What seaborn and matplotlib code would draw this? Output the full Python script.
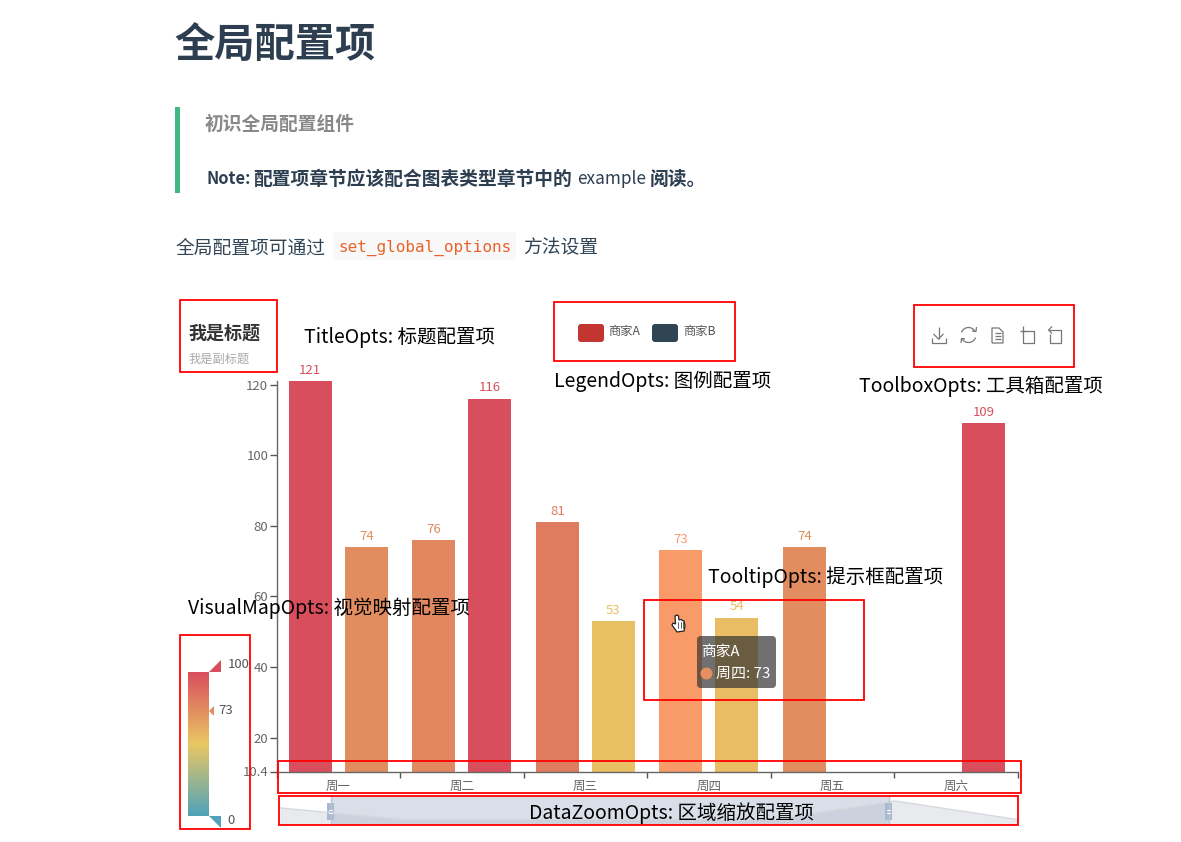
#!/usr/bin/env python3
"""Annotated echarts bar chart on a docs page, redrawn with seaborn."""

import matplotlib.pyplot as plt
import numpy as np
import pandas as pd
import seaborn as sns
from matplotlib.colors import LinearSegmentedColormap, Normalize
from matplotlib.patches import Arc, FancyBboxPatch, Polygon, Rectangle

days = ["周一", "周二", "周三", "周四", "周五", "周六"]
merchant_a = [121, 76, 81, 73, 74, np.nan]
merchant_b = [74, 116, 53, 54, np.nan, 109]
y_ticks = [10.4, 20, 40, 60, 80, 100, 120]
y_tick_labels = ["10.4", "20", "40", "60", "80", "100", "120"]
visual_colors = ["#50a3ba", "#eac763", "#d94e5d"]
shadow_values = [61, 20, 20, 20, 20, 86, 19]

W, H = 1181, 842
INK = "#2c3e50"
CJK = ["Noto Sans CJK SC", "DejaVu Sans"]

sns.set_theme(style="white")
plt.rcParams["font.family"] = CJK
plt.rcParams["axes.unicode_minus"] = False


def px_axes(fig, left, top, right, bottom, **kw):
    """Axes placed by its pixel box on the figure."""
    return fig.add_axes(
        [left / W, 1 - bottom / H, (right - left) / W, (bottom - top) / H], **kw
    )


def draw_chart(fig, cmap, norm):
    ax = px_axes(fig, 276.5, 381, 1017.5, 771.5)
    df = pd.DataFrame(
        {
            "day": days * 2,
            "value": merchant_a + merchant_b,
            "merchant": ["商家A"] * 6 + ["商家B"] * 6,
        }
    )
    sns.barplot(
        data=df, x="day", y="value", hue="merchant", order=days,
        width=0.906, gap=0.232, saturation=1, legend=False, ax=ax,
    )
    ax.set_xlim(-0.5, 5.5)
    ax.set_ylim(10.4, 121)

    for i, container in enumerate(ax.containers):
        colors = []
        for bar in container:
            c = cmap(norm(bar.get_height()))
            # 周四 of series A is the hovered bar
            if i == 0 and bar.get_height() == 73:
                c = "#f99b68"
            bar.set_facecolor(c)
            bar.set_edgecolor("none")
            colors.append(c)
        labels = ax.bar_label(container, padding=3, fontsize=9.5, clip_on=False)
        for text, c in zip(labels, colors):
            text.set_color(c)

    ax.set_xlabel("")
    ax.set_ylabel("")
    ax.set_yticks(y_ticks, y_tick_labels)
    ax.set_xticks(range(6), days)
    ax.set_xticks(np.arange(-0.5, 6), minor=True)
    ax.tick_params(axis="x", which="major", bottom=False, length=0, pad=6, labelsize=9, labelcolor="#666666")
    ax.tick_params(axis="x", which="minor", bottom=True, length=4, width=1, color="#555555")
    ax.tick_params(axis="y", left=True, length=5, width=1, color="#555555", pad=1, labelsize=9.5, labelcolor="#666666")
    sns.despine(ax=ax)
    for side in ("left", "bottom"):
        ax.spines[side].set_color("#666666")
        ax.spines[side].set_linewidth(1)
    ax.patch.set_alpha(0)


def draw_zoom_slider(fig):
    ax = px_axes(fig, 280, 797, 1018, 825)
    pos = np.arange(len(shadow_values))
    ax.fill_between(pos, shadow_values, 0, color="#e9eaed", lw=0)
    sns.lineplot(x=pos, y=shadow_values, color="#d5d8de", lw=1, ax=ax)
    ax.set_xlim(0, 6)
    ax.set_ylim(0, 100)
    ax.axis("off")
    ax.axvspan(0.414, 4.95, color="#a5b3c9", alpha=0.42, lw=0)
    for x in (0.414, 4.95):
        ax.axvline(x, color="#b8c5da", lw=1)
        ax.add_patch(Rectangle((x - 0.028, 18), 0.056, 60, color="#a9b9d0", lw=0))
        ax.plot([x - 0.012, x + 0.012], [43, 43], color="white", lw=0.8)
        ax.plot([x - 0.012, x + 0.012], [53, 53], color="white", lw=0.8)


def draw_visual_map(fig, cmap):
    ax = px_axes(fig, 188, 672, 209, 816)
    gradient = np.linspace(1, 0, 200).reshape(-1, 1)
    ax.imshow(gradient, aspect="auto", cmap=cmap, vmin=0, vmax=1)
    ax.axis("off")


def draw_toolbox(ov):
    grey = "#777777"
    lw = 0.9
    kw = dict(color=grey, lw=lw, solid_capstyle="butt")
    # download
    ov.plot([938.5, 938.5], [327, 339], **kw)
    ov.plot([933.5, 938.5, 943.5], [334, 339, 334], **kw)
    ov.plot([931.5, 931.5, 945.5, 945.5], [338, 343, 343, 338], **kw)
    # restore
    ov.add_patch(Arc((968.5, 335), 15, 15, theta1=200, theta2=335, color=grey, lw=lw))
    ov.add_patch(Arc((968.5, 335), 15, 15, theta1=20, theta2=155, color=grey, lw=lw))
    ov.plot([972, 976, 976.5], [331, 331.5, 327], **kw)
    ov.plot([961, 961.5, 965], [343, 338.5, 339], **kw)
    # data view
    ov.plot([992, 992, 999, 1003, 1003, 992], [343, 328, 328, 332, 343, 343], **kw)
    for y in (333, 336, 339):
        ov.plot([994.5, 1000.5], [y, y], **kw)
    # zoom
    ov.plot([1023, 1023, 1034, 1034, 1021], [326, 343, 343, 331, 331], **kw)
    ov.plot([1020, 1027], [331, 331], **kw)
    # zoom back
    ov.plot([1052, 1048.5, 1052], [326.5, 330, 333.5], **kw)
    ov.plot([1049, 1061, 1061, 1050, 1050], [330, 330, 343, 343, 334], **kw)


def draw_cursor(ov):
    hand = [
        (675, 616), (677, 615), (678.5, 616), (679, 620), (681, 619.5), (682.5, 620.5),
        (684, 621), (685, 626), (684, 631), (677, 632), (672, 625), (673, 623), (675.5, 624),
    ]
    ov.add_patch(Polygon(hand, closed=True, fc="white", ec="#222222", lw=0.9, zorder=6))
    for x in (678, 680.5, 682.8):
        ov.plot([x, x], [622, 628], color="#222222", lw=0.5, zorder=7)


def draw_page(ov):
    t = ov.text
    t(174.5, 46, "全局配置项", fontsize=29, fontweight="bold", color=INK, va="center")
    ov.add_patch(Rectangle((175, 107), 5, 86, color="#42b983", lw=0))
    t(205, 124, "初识全局配置组件", fontsize=13.5, fontweight="bold", color="#888888", va="center")
    t(206, 179, "Note:", fontsize=11.8, fontweight="bold", color=INK, va="center")
    t(253.5, 179, "配置项章节应该配合图表类型章节中的", fontsize=13.5, fontweight="bold", color=INK, va="center")
    t(577, 179, "example", fontsize=12.4, fontweight="medium", color=INK, va="center")
    t(650, 179, "阅读。", fontsize=13.5, fontweight="bold", color=INK, va="center")
    t(175.5, 248, "全局配置项可通过", fontsize=13.5, color="#304455", va="center")
    ov.add_patch(FancyBboxPatch((335, 234), 179, 24, boxstyle="round,pad=2,rounding_size=3", fc="#f8f8f8", ec="none"))
    t(338.5, 248, "set_global_options", family="DejaVu Sans Mono", fontsize=11.5, color="#e9642a", va="center")
    t(523.5, 248, "方法设置", fontsize=13.5, color="#304455", va="center")


def draw_overlay(ov, cmap, norm):
    # chart title and legend
    ov.text(188.5, 333, "我是标题", fontsize=13, fontweight="bold", color="#333333", va="center")
    ov.text(188.5, 359.5, "我是副标题", fontsize=8.8, color="#aaaaaa", va="center")
    ov.add_patch(FancyBboxPatch((580, 326), 22, 14, boxstyle="round,pad=2,rounding_size=3", fc="#c23531", ec="none"))
    ov.add_patch(FancyBboxPatch((654, 326), 22, 14, boxstyle="round,pad=2,rounding_size=3", fc="#2f4554", ec="none"))
    ov.text(608, 331.5, "商家A", fontsize=8.8, color="#555555", va="center")
    ov.text(683, 331.5, "商家B", fontsize=8.8, color="#555555", va="center")

    # visual map handles
    ov.add_patch(Polygon([(209, 672), (221, 660), (221, 672)], fc=cmap(norm(100)), ec="none"))
    ov.add_patch(Polygon([(209, 816), (221, 816), (221, 828)], fc=cmap(norm(0)), ec="none"))
    ov.add_patch(Polygon([(209, 711), (214, 706), (214, 716)], fc=cmap(norm(73)), ec="none"))
    ov.text(228, 665, "100", fontsize=9.5, color="#555555", va="center")
    ov.text(218, 710, "73", fontsize=9.5, color="#555555", va="center")
    ov.text(227, 821, "0", fontsize=9.5, color="#555555", va="center")

    # tooltip
    ov.add_patch(FancyBboxPatch((700, 639), 73, 46, boxstyle="round,pad=3,rounding_size=4", fc=(0.2, 0.2, 0.2, 0.7), ec="none", zorder=4))
    ov.text(701, 652, "商家A", fontsize=10.6, color="white", va="center", zorder=5)
    ov.scatter([706], [673], s=75, color="#e38f60", lw=0, zorder=5)
    ov.text(716, 674, "周四: 73", fontsize=10.8, color="white", va="center", zorder=5)

    # annotation boxes
    boxes = [
        (179.5, 300, 277, 372), (554, 302, 735, 361), (914, 305, 1074, 367),
        (644, 600, 864, 700), (179.5, 635, 250, 829), (278, 761, 1021, 793),
        (279, 796, 1018, 825),
    ]
    for x0, y0, x1, y1 in boxes:
        ov.add_patch(Rectangle((x0, y0), x1 - x0, y1 - y0, fill=False, ec="#ff0000", lw=1.3, zorder=8))

    notes = [
        (304, 338, "TitleOpts: 标题配置项"), (553.5, 381, "LegendOpts: 图例配置项"),
        (859, 386, "ToolboxOpts: 工具箱配置项"), (708, 577, "TooltipOpts: 提示框配置项"),
        (188, 608, "VisualMapOpts: 视觉映射配置项"), (529, 813, "DataZoomOpts: 区域缩放配置项"),
    ]
    for x, y, s in notes:
        ov.text(x, y, s, fontsize=14, color="black", va="center", zorder=9)


def main():
    fig = plt.figure(figsize=(W / 100, H / 100), dpi=100, facecolor="white")
    cmap = LinearSegmentedColormap.from_list("visual", visual_colors)
    norm = Normalize(0, 100)

    draw_chart(fig, cmap, norm)
    draw_zoom_slider(fig)
    draw_visual_map(fig, cmap)

    ov = fig.add_axes([0, 0, 1, 1], zorder=10)
    ov.set_xlim(0, W)
    ov.set_ylim(H, 0)
    ov.axis("off")
    draw_page(ov)
    draw_toolbox(ov)
    draw_overlay(ov, cmap, norm)
    draw_cursor(ov)

    fig.savefig("out.png", dpi=100)


if __name__ == "__main__":
    main()
